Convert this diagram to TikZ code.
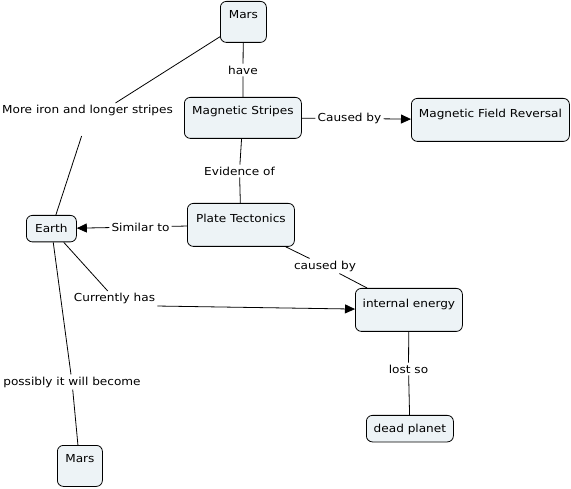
\documentclass[tikz,border=0pt]{standalone}
\usepackage{fontspec}
\setmainfont[FakeStretch=1.1]{DejaVu Sans}
\usetikzlibrary{arrows.meta}
\definecolor{conceptfill}{RGB}{237,243,246}

\begin{document}
\begin{tikzpicture}[x=1pt, y=-1pt,
    concept/.style={draw, line width=0.8pt, rounded corners=6pt, fill=conceptfill,
      anchor=north west, inner xsep=2pt, inner ysep=0pt, text height=17pt, text depth=24pt},
    deep/.style={concept, text height=19pt},
    flat/.style={concept, text depth=9.5pt},
    link/.style={inner sep=2pt},
    wire/.style={line width=0.8pt},
    tip/.style={wire, -{Triangle[length=10pt, width=9pt]}}]
                \useasboundingbox (0,0) rectangle (571,489);
                {\fontsize{11}{13}\selectfont

                % Drawing concept Mars (top)
                \node [concept, minimum width=46pt] (marsTop) at (220,1) {Mars};%

                % Drawing concept Magnetic Stripes
                \node [concept, minimum width=117pt] (stripes) at (184,97) {Magnetic Stripes};%

                % Drawing concept Magnetic Field Reversal
                \node [deep, minimum width=158pt] (reversal) at (411,98) {Magnetic Field Reversal};%

                % Drawing concept Plate Tectonics
                \node [deep, minimum width=107pt] (tectonics) at (187,203) {Plate Tectonics};%

                % Drawing concept Earth
                \node [flat, minimum width=50pt] (earth) at (26,215) {Earth};%

                % Drawing concept internal energy
                \node [deep, minimum width=107pt] (energy) at (355,288) {internal energy};%

                % Drawing concept dead planet
                \node [flat, minimum width=87pt] (dead) at (366,415) {dead planet};%

                % Drawing concept Mars (bottom)
                \node [concept, minimum width=45pt] (marsLow) at (57,445) {Mars};%

                % Marking link phrases
                \node [link] (have) at (243,70) {have};%
                \node [link] (causedTop) at (349.5,118.5) {Caused by};%
                \node [link] (evidence) at (239.5,171) {Evidence of};%
                \node [link] (similar) at (140.5,227) {Similar to};%
                \node [link] (moreIron) at (87.5,110.5) {More iron and longer stripes};%
                \node [link] (causedLow) at (325,266) {caused by};%
                \node [link] (currently) at (114.5,298.5) {Currently has};%
                \node [link] (possibly) at (72,382) {possibly it will become};%
                \node [link] (lostSo) at (408.5,369) {lost so};%

                % Drawing line Mars have Magnetic Stripes
                \draw [wire] (marsTop) -- (have);%
                \draw [wire] (have) -- (stripes);%

                % Drawing line Magnetic Stripes Caused by Magnetic Field Reversal
                \draw [wire] (stripes) -- (causedTop);%
                \draw [tip] (causedTop) -- (reversal);%

                % Drawing line Magnetic Stripes Evidence of Plate Tectonics
                \draw [wire] (stripes) -- (evidence);%
                \draw [wire] (evidence) -- (tectonics);%

                % Drawing line Plate Tectonics Similar to Earth
                \draw [wire] (tectonics) -- (similar);%
                \draw [tip] (similar) -- (earth);%

                % Drawing line Mars / Earth More iron and longer stripes
                \draw [wire] (marsTop) -- ([xshift=28pt]moreIron.north);%
                \draw [wire, shorten >=19pt] (earth) -- (moreIron.south);%

                % Drawing line Plate Tectonics caused by internal energy
                \draw [wire] (tectonics) -- (causedLow);%
                \draw [wire] (causedLow) -- (energy);%

                % Drawing line Earth Currently has internal energy
                \draw [wire] (earth) -- (currently);%
                \draw [tip] (currently.south east) -- (energy);%

                % Drawing line Earth possibly it will become Mars
                \draw [wire] (earth) -- (possibly);%
                \draw [wire] (possibly) -- (marsLow);%

                % Drawing line internal energy lost so dead planet
                \draw [wire] (energy) -- (lostSo);%
                \draw [wire] (lostSo) -- (dead);%
                }
\end{tikzpicture}
\end{document}
